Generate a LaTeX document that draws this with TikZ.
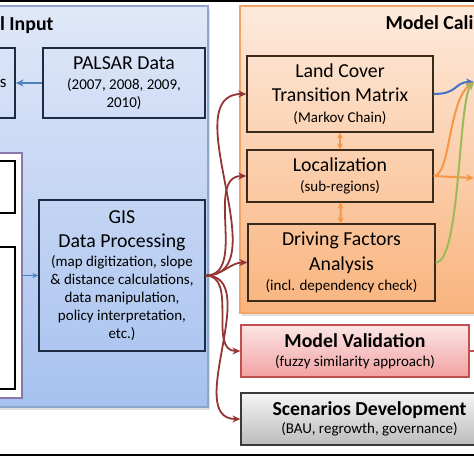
\documentclass[tikz,border=0pt]{standalone}
\usepackage{fontspec}
\setmainfont{Carlito}
\usetikzlibrary{arrows.meta, shadows}
\definecolor{input-top}{HTML}{E0E8F8}
\definecolor{input-bottom}{HTML}{A6C1EF}
\definecolor{input-edge}{HTML}{8FA5CB}
\definecolor{box-edge}{HTML}{1E2B45}
\definecolor{calib-top}{HTML}{FDEADC}
\definecolor{calib-bottom}{HTML}{F9B47E}
\definecolor{calib-edge}{HTML}{F3A466}
\definecolor{calib-line}{HTML}{3A2A1C}
\definecolor{valid-top}{HTML}{FCE5E5}
\definecolor{valid-bottom}{HTML}{F2A2A2}
\definecolor{valid-edge}{HTML}{C0504D}
\definecolor{scen-top}{HTML}{F5F5F5}
\definecolor{scen-bottom}{HTML}{BCBCBC}
\definecolor{scen-edge}{HTML}{3A3A3A}
\definecolor{purple-edge}{HTML}{8B78AA}
\definecolor{feed-blue}{HTML}{4F81BD}
\definecolor{fan-red}{HTML}{943634}
\definecolor{calib-orange}{HTML}{F79646}
\definecolor{calib-green}{HTML}{9BBB59}
\definecolor{calib-blue}{HTML}{4472C4}
\newcommand{\bigtext}{\fontsize{19.8}{24}\selectfont}
\newcommand{\smalltext}{\fontsize{15}{18}\selectfont}

\begin{document}
\begin{tikzpicture}[x=1pt, y=-1pt, >={Stealth[length=8pt, width=7pt]},
    inbox/.style={draw=box-edge, line width=1.3pt, align=center, inner sep=0pt, font=\smalltext},
    calbox/.style={draw=calib-line, line width=1.3pt, align=center, inner sep=0pt, font=\smalltext},
    fan/.style={->, draw=fan-red, line width=1.8pt}]
        \useasboundingbox (0, 0) rectangle (474, 474);
        \clip (0, 0) rectangle (474, 474);
        % Top and bottom rules
        \draw [line width=2.5pt] (0, 1) -- (474, 1);
        \draw [line width=2pt] (0, 455) -- (474, 455);
        % Model input panel
        \draw [top color=input-top, bottom color=input-bottom, draw=input-edge, line width=1.2pt,
            drop shadow={opacity=0.25, shadow xshift=2pt, shadow yshift=-3pt}] (-40, 6) rectangle (208, 407);
        \node [anchor=base east, font=\bigtext\bfseries] (input-title) at (57, 30) {Model Input};
        % Model calibration panel
        \draw [top color=calib-top, bottom color=calib-bottom, draw=calib-edge, line width=1.2pt,
            drop shadow={opacity=0.25, shadow xshift=2pt, shadow yshift=-3pt}] (240, 6) rectangle (520, 313);
        \node [anchor=base west, font=\bigtext\bfseries] (calib-title) at (382, 29) {Model Calibration};
        % Land cover maps box
        \node [inbox, minimum width=136pt, minimum height=70pt, font=\fontsize{17}{20}\selectfont] (maps) at (-53, 83) {Land Cover Maps};
        % PALSAR box
        \node [inbox, minimum width=162pt, minimum height=70pt] (palsar) at (124, 83)
            {{\bigtext PALSAR Data}\\[2.5pt] (2007, 2008, 2009,\\ 2010)};
        % PALSAR to maps arrow
        \draw [->, feed-blue, line width=2pt] (palsar) -- (maps);
        % Purple frame with its two boxes
        \node [draw=purple-edge, fill=white, line width=1.5pt, minimum width=160pt, minimum height=245pt] (frame) at (-58, 275.5) {};
        \node [draw, fill=white, line width=1.2pt, minimum width=120pt, minimum height=52pt] (frame-top) at (-45, 187) {};
        \node [draw, fill=white, line width=1.2pt, minimum width=120pt, minimum height=142pt] (frame-bottom) at (-45, 318) {};
        % GIS box
        \node [inbox, minimum width=166pt, minimum height=151pt] (gis) at (122, 275.5)
            {{\bigtext GIS}\\[6pt] {\bigtext Data Processing}\\[1.5pt] (map digitization, slope\\ \& distance calculations,\\
             data manipulation,\\ policy interpretation,\\ etc.)};
        % Frame to GIS arrow
        \draw [->, feed-blue, line width=1.5pt, >={Stealth[length=6pt, width=5pt]}] (frame.east |- gis.west) -- (gis.west);
        % Land cover transition box
        \node [calbox, minimum width=186pt, minimum height=76pt] (transition) at (340, 94)
            {{\bigtext Land Cover}\\[6pt] {\bigtext Transition Matrix}\\[2.5pt] (Markov Chain)};
        % Localization box
        \node [calbox, minimum width=186pt, minimum height=52pt] (local) at (340, 176)
            {{\bigtext Localization}\\[1.5pt] (sub-regions)};
        % Driving factors box
        \node [calbox, minimum width=187pt, minimum height=77pt] (factors) at (341.5, 262.5)
            {{\bigtext Driving Factors}\\[7pt] {\bigtext Analysis}\\[1.5pt] (incl. dependency check)};
        % Arrows inside calibration
        \draw [<->, calib-orange, line width=2pt, >={Stealth[length=6pt, width=6pt]}] (transition) -- (local);
        \draw [<->, calib-orange, line width=2pt, >={Stealth[length=6pt, width=6pt]}] (local) -- (factors);
        % Model validation box
        \node [draw=valid-edge, top color=valid-top, bottom color=valid-bottom, line width=1.2pt, align=center, font=\smalltext,
            minimum width=228pt, minimum height=52pt] (valid) at (355, 351)
            {{\bigtext\bfseries Model Validation}\\[0.5pt] (fuzzy similarity approach)};
        % Scenarios box
        \node [draw=scen-edge, top color=scen-top, bottom color=scen-bottom, line width=1.2pt, align=center, font=\smalltext,
            minimum width=257pt, minimum height=52pt] (scen) at (369.5, 419)
            {{\bigtext\bfseries Scenarios Development}\\[0.5pt] (BAU, regrowth, governance)};
        % Outgoing ends (off the picture)
        \coordinate (change) at (474, 82);
        \coordinate (local-out) at (474, 178);
        \coordinate (valid-out) at (480, 351);
        % Calibration outputs
        \draw [->, calib-blue, line width=2pt] (transition.east) .. controls +(25, 0) and +(-20, 0) .. (change);
        \draw [->, calib-orange, line width=2pt] (local.east) .. controls +(17, 0) and +(-26, 18) .. (change);
        \draw [->, calib-orange, line width=2pt] (local.east) -- (local-out);
        \draw [->, calib-green, line width=2pt] (factors.east) .. controls +(25, 0) and +(-16, 18) .. (change);
        \draw [valid-edge, line width=1.5pt] (valid.east) -- (valid-out);
        % GIS fan
        \draw [fan] (gis.east) to [out=0, in=180] (transition.west);
        \draw [fan] (gis.east) to [out=0, in=180] (local.west);
        \draw [fan] (gis.east) to [out=0, in=180] (factors.west);
        \draw [fan] (gis.east) to [out=0, in=180] (valid.west);
        \draw [fan] (gis.east) to [out=0, in=180] (scen.west);
    \end{tikzpicture}
\end{document}
